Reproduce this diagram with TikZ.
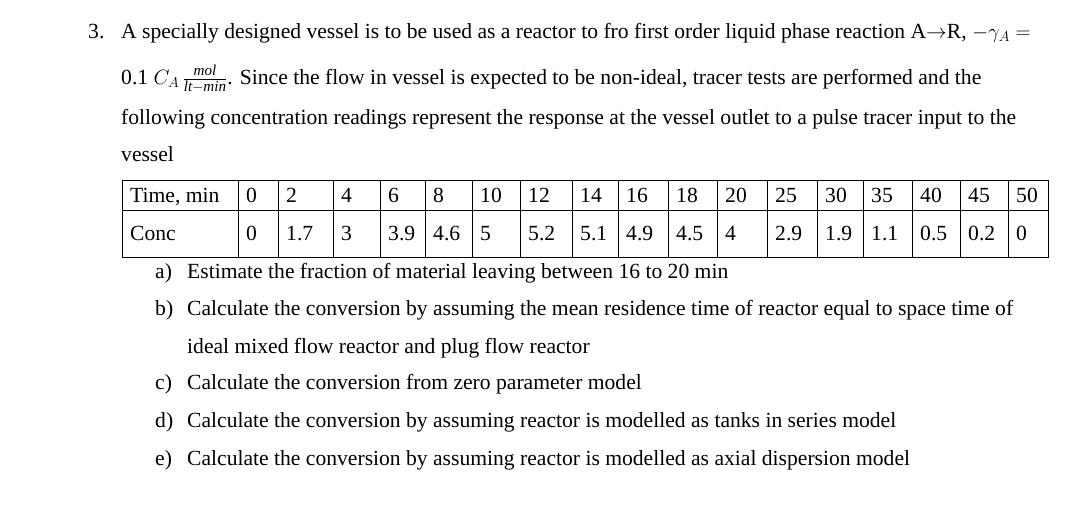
\documentclass[tikz,border=0pt]{standalone}
\usepackage{amsmath}
\usepackage{fontspec}
\setmainfont{Liberation Serif}
\begin{document}
\begin{tikzpicture}[x=1pt,y=-1pt,
  txt/.style={anchor=base west,inner sep=0pt,font=\fontsize{21.6}{26}\selectfont},
  grid/.style={line width=0.8pt}]
\useasboundingbox[fill=white] (0,0) rectangle (1080,506);
\node[txt] (n3) at (88,38) {3.};
\node[txt] (l1) at (121,38) {A specially designed vessel is to be used as a reactor to fro first order liquid phase reaction A$\rightarrow$R, $-\gamma_A=$};
\node[txt] (l2) at (121,84) {0.1 $C_A\,\genfrac{}{}{0.5pt}{1}{\textit{mol}}{\textit{lt}-\textit{min}}$. Since the flow in vessel is expected to be non-ideal, tracer tests are performed and the};
\node[txt] (l3) at (121,124) {following concentration readings represent the response at the vessel outlet to a pulse tracer input to the};
\node[txt] (l4) at (121,161) {vessel};
% table
\draw[grid] (122,180) rectangle (1048,257);
\draw[grid] (122,210) -- (1048,210);
\foreach \x in {238,278,333,380,425,472,520,572,618,668,717,767,817,863,912,960,1008}
  \draw[grid] (\x,180) -- (\x,257);
\foreach \x/\t/\c [count=\i] in {122/{Time, min}/Conc,238/0/0,278/2/1.7,333/4/3,380/6/3.9,425/8/4.6,472/10/5,520/12/5.2,572/14/5.1,618/16/4.9,668/18/4.5,717/20/4,767/25/2.9,817/30/1.9,863/35/1.1,912/40/0.5,960/45/0.2,1008/50/0}{
  \node[txt] (t\i) at (\x+8,202) {\t};
  \node[txt] (c\i) at (\x+8,240) {\c};
}
\node[txt] (a) at (155,278) {a)};
\node[txt] (a2) at (187,278) {Estimate the fraction of material leaving between 16 to 20 min};
\node[txt] (b) at (155,315) {b)};
\node[txt] (b1) at (187,315) {Calculate the conversion by assuming the mean residence time of reactor equal to space time of};
\node[txt] (b2) at (187,353) {ideal mixed flow reactor and plug flow reactor};
\node[txt] (c) at (155,389) {c)};
\node[txt] (c1) at (187,389) {Calculate the conversion from zero parameter model};
\node[txt] (d) at (155,427) {d)};
\node[txt] (d1) at (187,427) {Calculate the conversion by assuming reactor is modelled as tanks in series model};
\node[txt] (e) at (155,465) {e)};
\node[txt] (e1) at (187,465) {Calculate the conversion by assuming reactor is modelled as axial dispersion model};
\end{tikzpicture}
\end{document}
